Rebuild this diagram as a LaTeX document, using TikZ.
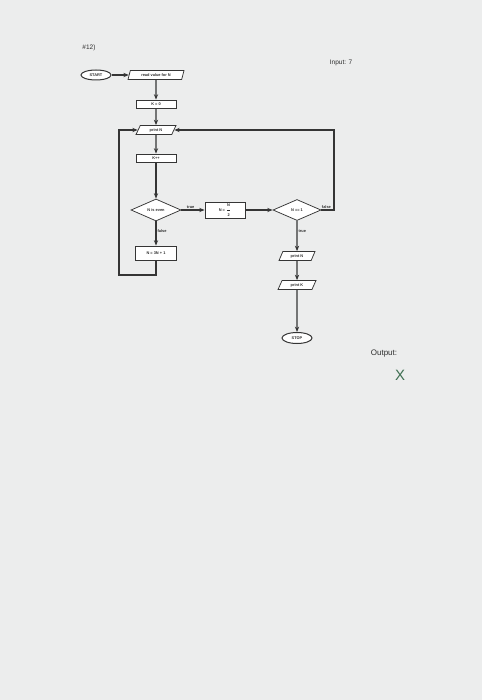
\documentclass[tikz,border=0pt]{standalone}
\usepackage{fontspec}
\setmainfont{Liberation Sans}
\usetikzlibrary{arrows.meta,shapes.geometric}
\definecolor{paperfill}{HTML}{ECEDED}
\definecolor{linegray}{HTML}{353535}
\definecolor{textgray}{HTML}{2E2E2E}
\definecolor{checkgreen}{HTML}{3F6F52}
\newcommand{\boxtext}{\fontsize{3.9}{4.5}\selectfont\bfseries}
\tikzset{
  >={Stealth[length=1.9mm,width=1.5mm]},
  flow/.style={->,draw=linegray,line width=1.3pt},
  loopline/.style={->,draw=linegray,line width=1.2pt},
  stepbox/.style={draw=linegray,line width=.75pt,fill=white,text=textgray,font=\boxtext,inner sep=0pt,minimum width=40pt,minimum height=8pt},
  iobox/.style={trapezium,trapezium left angle=65,trapezium right angle=115,trapezium stretches=true,draw=linegray,line width=.75pt,fill=white,text=textgray,font=\boxtext,inner sep=0pt,minimum height=9pt},
  endbox/.style={ellipse,draw=linegray,line width=1pt,fill=white,text=textgray,font=\boxtext,inner sep=0pt,minimum width=30pt,minimum height=10pt},
  testbox/.style={diamond,draw=linegray,line width=.75pt,fill=white,text=textgray,font=\boxtext,inner sep=0pt,aspect=2.3},
  edgelabel/.style={font=\fontsize{3.9}{4.5}\selectfont\bfseries,text=textgray,inner sep=1pt},
  note/.style={font=\fontsize{6.5}{7.5}\selectfont,text=textgray}
}
\begin{document}
\begin{tikzpicture}[x=1pt,y=-1pt]
  % Paper sheet fixes the page size.
  \fill[paperfill] (0,0) rectangle (482,700);
  \useasboundingbox (0,0) rectangle (482,700);

  % Page notes.
  \node[note] (qnum) at (89,48) {\#12)};
  \node[note] (input) at (341,63) {Input: 7};
  \node[note,font=\fontsize{8}{9}\selectfont] (output) at (384,354) {Output:};
  \node[text=checkgreen,font=\fontsize{15}{15}\selectfont] (mark) at (400,375) {X};

  % Main column of the flowchart.
  \node[endbox] (start) at (96,75) {START};
  \node[iobox,minimum width=56pt] (readn) at (156,75) {read value for N};
  \node[stepbox] (kzero) at (156,104) {K = 0};
  \node[iobox,minimum width=40pt] (printa) at (156,130) {print N};
  \node[stepbox] (kinc) at (156,158) {K++};
  \node[testbox,minimum width=50pt,minimum height=22pt] (even) at (156,210) {N is even};
  \node[stepbox,minimum width=41pt,minimum height=14pt] (odd) at (156,253) {N = 3N + 1};

  % Halving step and exit test.
  \node[stepbox,minimum width=40pt,minimum height=16pt] (half) at (225,210) {N = $\displaystyle\frac{\mathbf{N}}{\mathbf{2}}$};
  \node[testbox,minimum width=48pt,minimum height=21pt] (isone) at (297,210) {N == 1};
  \node[iobox,minimum width=36pt] (printb) at (297,256) {print N};
  \node[iobox,minimum width=38pt] (printk) at (297,285) {print K};
  \node[endbox,minimum height=11pt] (stop) at (297,338) {STOP};

  \coordinate (loopleft) at (119,275);
  \coordinate (loopright) at (334,210);

  % Straight flow.
  \draw[flow] (start.east) -- (readn.west);
  \draw[flow] (readn.south) -- (kzero.north);
  \draw[flow] (kzero.south) -- (printa.north);
  \draw[flow] (printa.south) -- (kinc.north);
  \draw[flow] (kinc.south) -- (even.north);
  \draw[flow] (even.east) -- node[edgelabel,above,pos=.4] {true} (half.west);
  \draw[flow] (even.south) -- node[edgelabel,right,pos=.4] {false} (odd.north);
  \draw[flow] (half.east) -- (isone.west);
  \draw[flow] (isone.south) -- node[edgelabel,right,pos=.35] {true} (printb.north);
  \draw[flow] (printb.south) -- (printk.north);
  \draw[flow] (printk.south) -- (stop.north);

  % Both loops return to the print step.
  \draw[loopline] (odd.south) |- (loopleft) |- (printa.west);
  \draw[loopline] (isone.east) -- node[edgelabel,above,pos=.4] {false} (loopright) |- (printa.east);
\end{tikzpicture}
\end{document}
